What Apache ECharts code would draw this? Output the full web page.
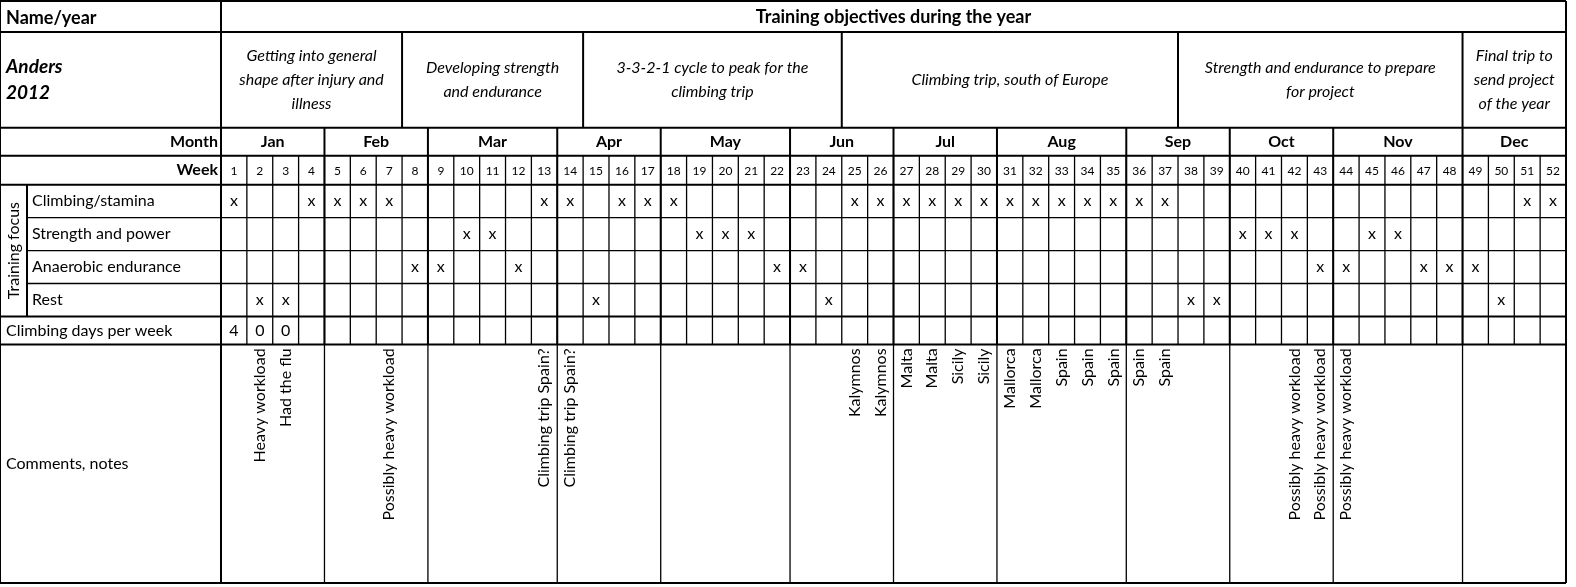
<!DOCTYPE html>
<html><head><meta charset="utf-8">
<script src="https://cdn.jsdelivr.net/npm/echarts@6/dist/echarts.min.js"></script>
<style>html,body{margin:0;padding:0;background:#fff}#c{width:1576px;height:587px}</style>
</head><body><div id="c"></div>
<script>
const months = ['Jan','Feb','Mar','Apr','May','Jun','Jul','Aug','Sep','Oct','Nov','Dec'];
const monthWeeks = [4,4,5,4,5,4,4,5,4,4,5,4];
const weeks = Array.from({length:52},(_,i)=>i+1);
const objectives = [
  'Getting into general\nshape after injury and\nillness',
  'Developing strength\nand endurance',
  '3-3-2-1 cycle to peak for the\nclimbing trip',
  'Climbing trip, south of Europe',
  'Strength and endurance to prepare\nfor project',
  'Final trip to\nsend project\nof the year'
];
const objectiveWeeks = [7,7,10,13,11,4];
const focusRows = ['Climbing/stamina','Strength and power','Anaerobic endurance','Rest'];
const climbingWeeks = [1,4,5,6,7,13,14,16,17,18,25,26,27,28,29,30,31,32,33,34,35,36,37,51,52];
const strengthWeeks = [10,11,19,20,21,40,41,42,45,46];
const anaerobicWeeks = [8,9,12,22,23,43,44,47,48,49];
const restWeeks = [2,3,15,24,38,39,50];
const climbingDays = [[1,'4'],[2,'0'],[3,'0']];
const comments = [[2,'Heavy workload'],[3,'Had the flu'],[7,'Possibly heavy workload'],
  [13,'Climbing trip Spain?'],[14,'Climbing trip Spain?'],[25,'Kalymnos'],[26,'Kalymnos'],
  [27,'Malta'],[28,'Malta'],[29,'Sicily'],[30,'Sicily'],[31,'Mallorca'],[32,'Mallorca'],
  [33,'Spain'],[34,'Spain'],[35,'Spain'],[36,'Spain'],[37,'Spain'],
  [42,'Possibly heavy workload'],[43,'Possibly heavy workload'],[44,'Possibly heavy workload']];

const FONT = 'Lato, "Open Sans", sans-serif';
const LEFT = 221/25.865;
const SUB = -LEFT + 27/25.865;
const R = [0,31,127,155,184,217,250,283,316,344,583];

function render(params, api){
  const c = (x,y)=>api.coord([x,y]);
  const kids = [];
  const line = (x1,y1,x2,y2,w)=>{const a=c(x1,y1),b=c(x2,y2);
    kids.push({type:'line',shape:{x1:a[0],y1:a[1],x2:b[0],y2:b[1]},style:{stroke:'#000',lineWidth:w}});};
  const text = (x,y,t,o)=>{const p=c(x,y);
    kids.push({type:'text',x:p[0],y:p[1],rotation:o.rot||0,style:{text:t,fill:'#000',font:o.font,align:o.align||'center',verticalAlign:'middle',lineHeight:o.lh}});};
  const X0=-LEFT, X1=52;
  [0,1,2,3,4,8,9,10].forEach(i=>line(X0,R[i],X1,R[i],2));
  [5,6,7].forEach(i=>line(SUB,R[i],X1,R[i],1.3));
  line(X0,R[0],X0,R[10],2); line(X1,R[0],X1,R[10],2); line(0,R[0],0,R[10],2);
  line(SUB,R[4],SUB,R[8],2);
  let w=0;
  objectives.forEach((t,i)=>{const s=w; w+=objectiveWeeks[i];
    if(w<52) line(w,R[1],w,R[2],2);
    text((s+w)/2,(R[1]+R[2])/2,t,{font:'italic 16px '+FONT,lh:24});});
  w=0;
  months.forEach((m,i)=>{const s=w; w+=monthWeeks[i];
    if(w<52){line(w,R[2],w,R[9],2); line(w,R[9],w,R[10],1.3);}
    text((s+w)/2,(R[2]+R[3])/2,m,{font:'bold 16px '+FONT});});
  weeks.forEach(k=>{ if(k<52) line(k,R[3],k,R[9],1.3);
    text(k-0.5,(R[3]+R[4])/2+1,String(k),{font:'12px '+FONT});});
  text(X0+6/25.865,17,'Name/year',{font:'bold 18px '+FONT,align:'left'});
  text(26,16,'Training objectives during the year',{font:'bold 18px '+FONT});
  text(X0+6/25.865,79,'Anders\n2012',{font:'italic bold 19px '+FONT,align:'left',lh:26});
  text(-3/25.865,(R[2]+R[3])/2,'Month',{font:'bold 16px '+FONT,align:'right'});
  text(-3/25.865,(R[3]+R[4])/2,'Week',{font:'bold 16px '+FONT,align:'right'});
  text(X0+14/25.865,(R[4]+R[8])/2,'Training focus',{font:'16px '+FONT,rot:Math.PI/2});
  focusRows.forEach((f,i)=>text(SUB+5/25.865,(R[4+i]+R[5+i])/2,f,{font:'16px '+FONT,align:'left'}));
  text(X0+6/25.865,(R[8]+R[9])/2,'Climbing days per week',{font:'16px '+FONT,align:'left'});
  text(X0+6/25.865,(R[9]+R[10])/2,'Comments, notes',{font:'16px '+FONT,align:'left'});
  [climbingWeeks,strengthWeeks,anaerobicWeeks,restWeeks].forEach((arr,i)=>
    arr.forEach(k=>text(k-0.5,(R[4+i]+R[5+i])/2,'x',{font:'16px '+FONT})));
  climbingDays.forEach(([k,v])=>text(k-0.5,(R[8]+R[9])/2,v,{font:'16px '+FONT}));
  comments.forEach(([k,t])=>text(k-0.5,R[9]+4,t,{font:'16px '+FONT,rot:Math.PI/2,align:'right'}));
  return {type:'group',children:kids};
}

const chart = echarts.init(document.getElementById('c'));
chart.setOption({
  animation:false,
  grid:{left:0,top:1,width:1566,height:582},
  xAxis:{type:'value',min:-LEFT,max:52,show:false},
  yAxis:{type:'value',min:0,max:583,inverse:true,show:false},
  series:[{type:'custom',renderItem:render,data:[[0,0]],clip:false,silent:true}]
});
</script></body></html>
